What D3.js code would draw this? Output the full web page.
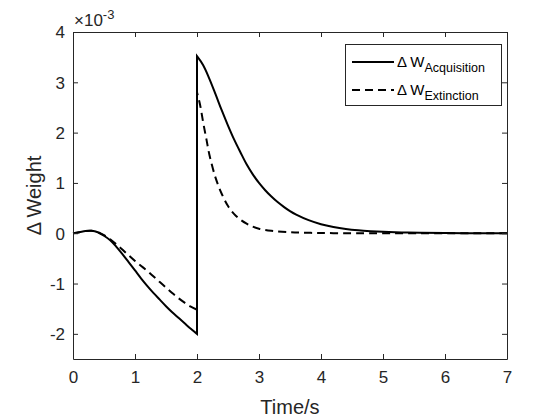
<!DOCTYPE html>
<html>
<head>
<meta charset="utf-8">
<script src="https://cdn.jsdelivr.net/npm/d3@7"></script>
<style>
  body { margin: 0; background: #fff; }
  svg { font-family: "Liberation Sans", Arial, sans-serif; }
</style>
</head>
<body>
<svg id="chart" width="560" height="420"></svg>
<script>
// values in units of 1e-3; each series split at the jump (t = 2 s)
const acqTimeBefore = [0, 0.1, 0.2, 0.3, 0.4, 0.5, 0.6, 0.7, 0.8, 0.9, 1.0, 1.1, 1.2, 1.3, 1.4, 1.5, 1.6, 1.7, 1.8, 1.9, 2.0];
const acqBefore = [0, 0.02, 0.045, 0.05, 0.02, -0.05, -0.14, -0.27, -0.42, -0.58, -0.74, -0.9, -1.05, -1.19, -1.32, -1.45, -1.57, -1.68, -1.79, -1.9, -2.0];
const acqTimeAfter = [2.0, 2.1, 2.2, 2.3, 2.4, 2.5, 2.6, 2.7, 2.8, 2.9, 3.0, 3.1, 3.2, 3.3, 3.4, 3.5, 3.6, 3.8, 4.0, 4.2, 4.4, 4.6, 4.8, 5.0, 5.3, 5.6, 6.0, 6.5, 7.0];
const acqAfter = [3.52, 3.34, 3.07, 2.76, 2.44, 2.14, 1.86, 1.61, 1.37, 1.17, 1.0, 0.855, 0.73, 0.62, 0.525, 0.44, 0.37, 0.26, 0.18, 0.125, 0.085, 0.058, 0.04, 0.027, 0.015, 0.008, 0.003, 0.001, 0];

const extTimeBefore = [0, 0.1, 0.2, 0.3, 0.4, 0.5, 0.6, 0.7, 0.8, 0.9, 1.0, 1.1, 1.2, 1.3, 1.4, 1.5, 1.6, 1.7, 1.8, 1.9, 2.0];
const extBefore = [0, 0.02, 0.045, 0.05, 0.02, -0.04, -0.12, -0.22, -0.33, -0.44, -0.55, -0.65, -0.75, -0.86, -0.97, -1.08, -1.19, -1.29, -1.38, -1.46, -1.52];
const extTimeAfter = [2.0, 2.05, 2.1, 2.15, 2.2, 2.3, 2.4, 2.5, 2.6, 2.7, 2.8, 2.9, 3.0, 3.2, 3.5, 3.8, 4.2, 5.0, 7.0];
const extAfter = [2.8, 2.55, 2.2, 1.88, 1.56, 1.1, 0.78, 0.54, 0.38, 0.27, 0.19, 0.13, 0.09, 0.05, 0.02, 0.008, 0.002, 0, 0];

const xTicks = [0, 1, 2, 3, 4, 5, 6, 7];
const yTicks = [-2, -1, 0, 1, 2, 3, 4];

const margin = { top: 32, right: 53, bottom: 61, left: 73 };
const width = 560;
const height = 420;

const x = d3.scaleLinear().domain([0, 7]).range([margin.left, width - margin.right]);
const y = d3.scaleLinear().domain([-2.5, 4]).range([height - margin.bottom, margin.top]);

const svg = d3.select("#chart");

const line = d3
  .line()
  .x((d) => x(d[0]))
  .y((d) => y(d[1]))
  .curve(d3.curveCatmullRom.alpha(0.5));

function jumpPath(t1, v1, t2, v2) {
  const a = line(t1.map((t, i) => [t, v1[i]]));
  const b = line(t2.map((t, i) => [t, v2[i]]));
  return a + b.replace(/^M/, "L");
}

// curves
svg
  .append("path")
  .attr("d", jumpPath(extTimeBefore, extBefore, extTimeAfter, extAfter))
  .attr("fill", "none")
  .attr("stroke", "#000")
  .attr("stroke-width", 2)
  .attr("stroke-dasharray", "8,5");

svg
  .append("path")
  .attr("d", jumpPath(acqTimeBefore, acqBefore, acqTimeAfter, acqAfter))
  .attr("fill", "none")
  .attr("stroke", "#000")
  .attr("stroke-width", 2);

// axes with inward ticks on all four sides
const axisColor = "#262626";
const fmt = (d) => String(d);
const axBottom = svg
  .append("g")
  .attr("transform", `translate(0,${height - margin.bottom})`)
  .call(d3.axisBottom(x).tickValues(xTicks).tickFormat(fmt).tickSizeInner(-5).tickSizeOuter(0).tickPadding(12));
const axTop = svg
  .append("g")
  .attr("transform", `translate(0,${margin.top})`)
  .call(d3.axisTop(x).tickValues(xTicks).tickSizeInner(-5).tickSizeOuter(0).tickFormat(""));
const axLeft = svg
  .append("g")
  .attr("transform", `translate(${margin.left},0)`)
  .call(d3.axisLeft(y).tickValues(yTicks).tickFormat(fmt).tickSizeInner(-5).tickSizeOuter(0).tickPadding(8));
const axRight = svg
  .append("g")
  .attr("transform", `translate(${width - margin.right},0)`)
  .call(d3.axisRight(y).tickValues(yTicks).tickSizeInner(-5).tickSizeOuter(0).tickFormat(""));

[axBottom, axTop, axLeft, axRight].forEach((g) => {
  g.select(".domain").attr("stroke", axisColor).attr("stroke-width", 1);
  g.selectAll(".tick line").attr("stroke", axisColor);
  g.selectAll(".tick text")
    .attr("fill", axisColor)
    .style("font-size", "17px")
    .style("font-family", "Liberation Sans, Arial, sans-serif");
});
axLeft.selectAll(".tick text").attr("dy", "0.35em");

// exponent
const expo = svg
  .append("text")
  .attr("x", margin.left + 1)
  .attr("y", 26)
  .attr("fill", axisColor)
  .style("font-size", "17px");
expo.append("tspan").text("\u00d710");
expo.append("tspan").attr("dy", -7).style("font-size", "13px").text("-3");

// axis labels
svg
  .append("text")
  .attr("x", (margin.left + width - margin.right) / 2)
  .attr("y", 414)
  .attr("text-anchor", "middle")
  .attr("fill", axisColor)
  .style("font-size", "20px")
  .text("Time/s");

svg
  .append("text")
  .attr("transform", `translate(41,${(margin.top + height - margin.bottom) / 2}) rotate(-90)`)
  .attr("text-anchor", "middle")
  .attr("fill", axisColor)
  .style("font-size", "20px")
  .text("\u0394 Weight");

// legend
const legend = svg.append("g");
legend
  .append("rect")
  .attr("x", 345.5)
  .attr("y", 44.5)
  .attr("width", 156)
  .attr("height", 61)
  .attr("fill", "#fff")
  .attr("stroke", axisColor)
  .attr("stroke-width", 1);

const legendItems = [
  { sub: "Acquisition", dash: null, yy: 62 },
  { sub: "Extinction", dash: "8,5", yy: 90 },
];
legendItems.forEach((d) => {
  legend
    .append("line")
    .attr("x1", 352)
    .attr("x2", 394)
    .attr("y1", d.yy)
    .attr("y2", d.yy)
    .attr("stroke", "#000")
    .attr("stroke-width", 2)
    .attr("stroke-dasharray", d.dash);
  const t = legend
    .append("text")
    .attr("x", 397)
    .attr("y", d.yy + 5)
    .attr("fill", "#000")
    .style("font-size", "15px");
  t.append("tspan").text("\u0394 W");
  t.append("tspan").attr("dy", 5).style("font-size", "12.5px").text(d.sub);
});
</script>
</body>
</html>
